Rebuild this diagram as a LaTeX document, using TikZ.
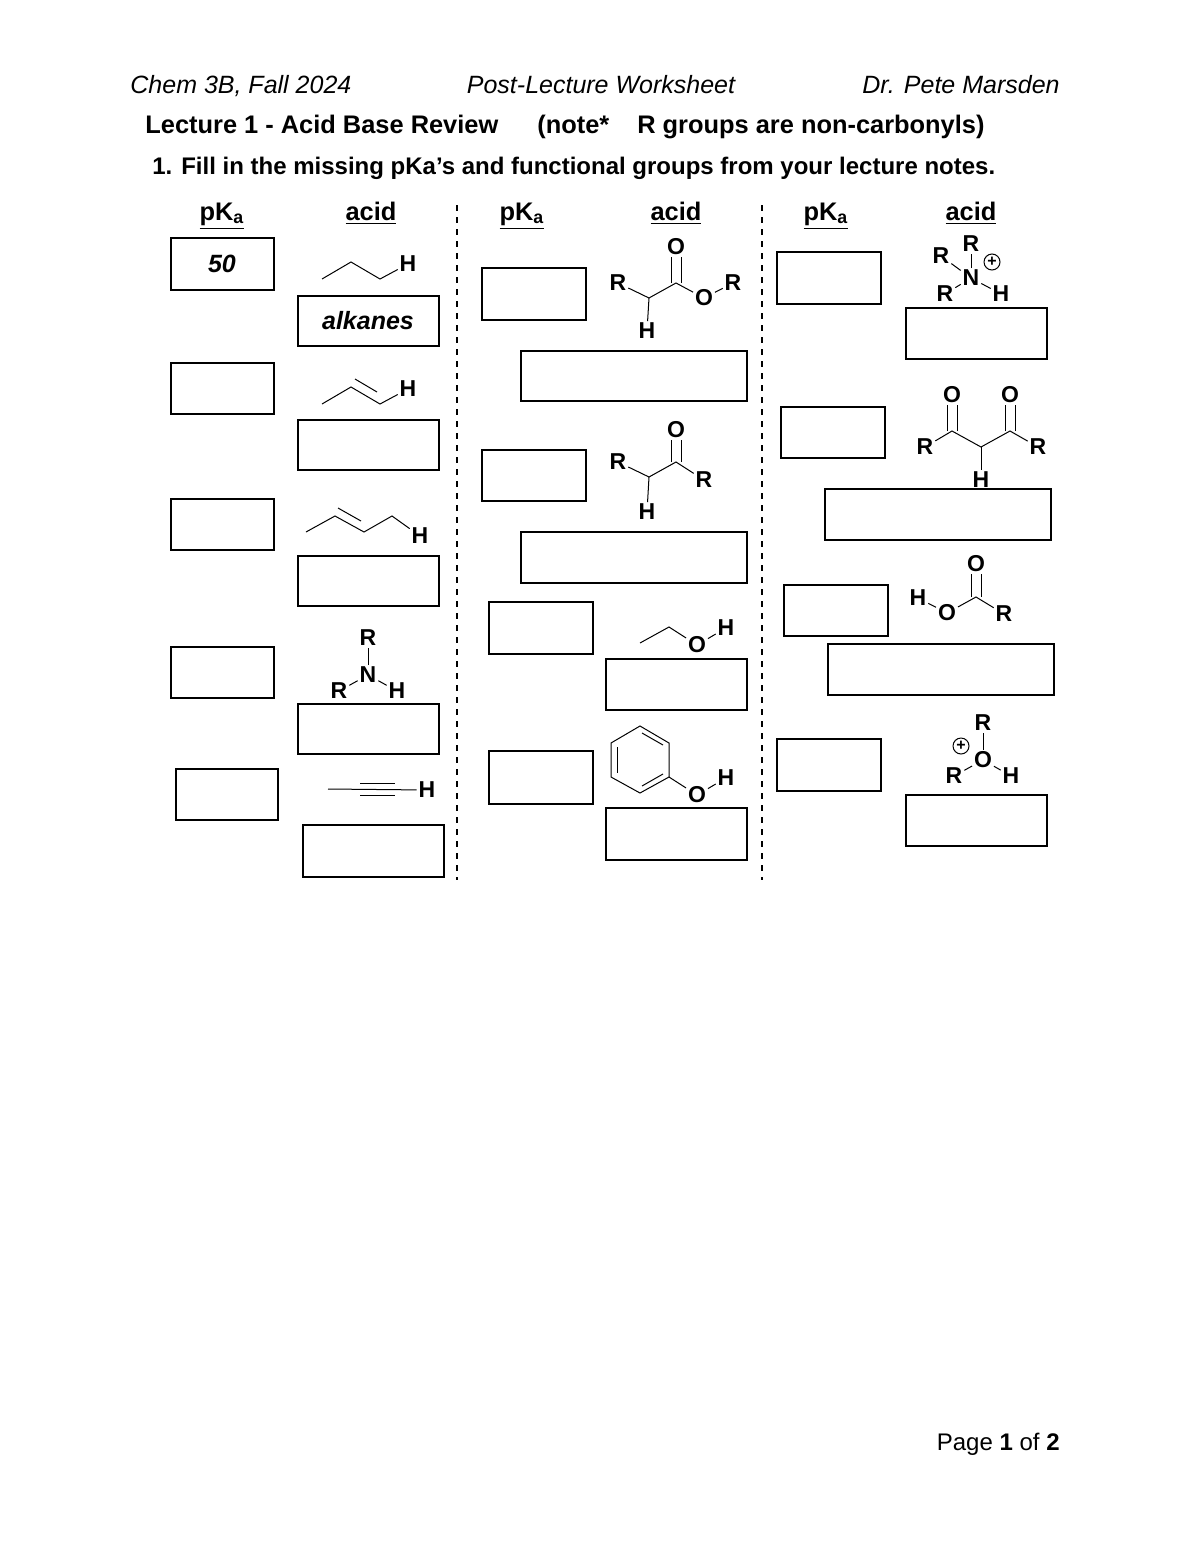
\documentclass[tikz,border=0pt]{standalone}
\usepackage{fontspec}
\setmainfont{Liberation Sans}
\tikzset{
  box/.style={draw, line width=0.6pt},
  atom/.style={font=\fontsize{11.5}{13}\selectfont\bfseries, inner sep=0.8pt},
  bond/.style={line width=0.5pt},
  head/.style={font=\fontsize{12.7}{14}\selectfont\bfseries, inner sep=0pt},
  txt/.style={font=\fontsize{12.5}{14}\selectfont\itshape, inner sep=0pt},
  pm/.style={circle, draw, line width=0.5pt, inner sep=0pt, minimum size=8pt, font=\fontsize{8}{8}\selectfont\bfseries}
}
\newcommand{\hdr}[2]{\node[head, anchor=base] at (#1,220) {\underline{pK\textsubscript{a}}};
  \node[head, anchor=base] at (#2,220) {\underline{acid}};}
\begin{document}
\begin{tikzpicture}[x=0.5pt,y=-0.5pt]
\useasboundingbox (0,0) rectangle (1200,1553);
% header
\node[anchor=base west, txt] (hl) at (130,93) {Chem 3B, Fall 2024};
\node[anchor=base, txt] (hc) at (601,93) {Post-Lecture Worksheet};
\node[anchor=base east, txt] (hr) at (1060,93) {Dr. Pete Marsden};
\node[anchor=base west, head] (title) at (145,133) {Lecture 1 - Acid Base Review};
\node[anchor=base west, head] (note) at (537,133) {(note*\hspace{1.1em}R groups are non-carbonyls)};
\node[anchor=base west, head, font=\fontsize{12}{14}\selectfont\bfseries] (q1) at (152,174) {1. Fill in the missing pKa's and functional groups from your lecture notes.};
\hdr{222}{371}
\hdr{522}{676}
\hdr{826}{971}
\draw[dashed, line width=0.6pt] (457,205) -- (457,880);
\draw[dashed, line width=0.6pt] (762,205) -- (762,880);

% column 1 boxes
\draw[box] (171,238) rectangle (274,290);
\node[font=\fontsize{12.5}{14}\selectfont\bfseries\itshape] (v50) at (222,264) {50};
\draw[box] (298,296) rectangle (439,346);
\node[font=\fontsize{12.5}{14}\selectfont\bfseries\itshape] (alk) at (368,321) {alkanes};
\draw[box] (171,363) rectangle (274,414);
\draw[box] (298,420) rectangle (439,470);
\draw[box] (171,499) rectangle (274,550);
\draw[box] (298,556) rectangle (439,606);
\draw[box] (171,647) rectangle (274,698);
\draw[box] (298,704) rectangle (439,754);
\draw[box] (176,769) rectangle (278,820);
\draw[box] (303,825) rectangle (444,877);

% column 2 boxes
\draw[box] (482,268) rectangle (586,320);
\draw[box] (521,351) rectangle (747,401);
\draw[box] (482,450) rectangle (586,501);
\draw[box] (521,532) rectangle (747,583);
\draw[box] (489,602) rectangle (593,654);
\draw[box] (606,659) rectangle (747,710);
\draw[box] (489,751) rectangle (593,804);
\draw[box] (606,808) rectangle (747,860);

% column 3 boxes
\draw[box] (777,252) rectangle (881,304);
\draw[box] (906,308) rectangle (1047,359);
\draw[box] (781,407) rectangle (885,458);
\draw[box] (825,489) rectangle (1051,540);
\draw[box] (784,585) rectangle (888,636);
\draw[box] (828,644) rectangle (1054,695);
\draw[box] (777,739) rectangle (881,791);
\draw[box] (906,795) rectangle (1047,846);

% propane
\node[atom] (pH) at (408,264) {H};
\draw[bond] (322,279) -- (351,262) -- (380,279) -- (pH);
% propene
\node[atom] (eH) at (408,389) {H};
\draw[bond] (322,404) -- (351,387) -- (380,404) -- (eH);
\draw[bond] (355,379) -- (377,392);
% butene
\node[atom] (bH) at (420,536) {H};
\draw[bond] (306,532) -- (335,516) -- (364,532) -- (392,516) -- (bH);
\draw[bond] (338,508) -- (361,521);
% amine
\node[atom] (aN) at (368,675) {N};
\node[atom] (aR1) at (368,638) {R};
\node[atom] (aR2) at (339,691) {R};
\node[atom] (aH) at (397,691) {H};
\draw[bond] (aN) -- (aR1);
\draw[bond] (aN) -- (aR2);
\draw[bond] (aN) -- (aH);
% alkyne
\node[atom] (yH) at (427,790) {H};
\draw[bond] (328,789) -- (yH);
\draw[bond] (360,783) -- (395,783);
\draw[bond] (360,795) -- (395,795);

% ester
\node[atom] (sR1) at (618,283) {R};
\coordinate (sC1) at (649,298);
\coordinate (sC2) at (676,283);
\node[atom] (sO1) at (676,247) {O};
\node[atom] (sO2) at (704,298) {O};
\node[atom] (sR2) at (733,283) {R};
\node[atom] (sH) at (647,331) {H};
\draw[bond] (sR1) -- (sC1) -- (sC2) -- (sO2) -- (sR2);
\draw[bond] (sC1) -- (sH);
\draw[bond] ([xshift=-2.5]sC2) -- ([xshift=-2.5]sO1.south);
\draw[bond] ([xshift=2.5]sC2) -- ([xshift=2.5]sO1.south);
% ketone
\node[atom] (kR1) at (618,462) {R};
\coordinate (kC1) at (649,477);
\coordinate (kC2) at (676,462);
\node[atom] (kO) at (676,430) {O};
\node[atom] (kR2) at (704,480) {R};
\node[atom] (kH) at (647,512) {H};
\draw[bond] (kR1) -- (kC1) -- (kC2) -- (kR2);
\draw[bond] (kC1) -- (kH);
\draw[bond] ([xshift=-2.5]kC2) -- ([xshift=-2.5]kO.south);
\draw[bond] ([xshift=2.5]kC2) -- ([xshift=2.5]kO.south);
% ethanol
\node[atom] (oO) at (697,645) {O};
\node[atom] (oH) at (726,628) {H};
\draw[bond] (640,643) -- (669,627) -- (oO) -- (oH);
% phenol
\node[atom] (fO) at (697,795) {O};
\node[atom] (fH) at (726,778) {H};
\draw[bond] (640,726) -- (669,743) -- (669,777) -- (640,793) -- (611,777) -- (611,743) -- cycle;
\draw[bond] (642,733) -- (663,745);
\draw[bond] (663,774) -- (642,786);
\draw[bond] (617,747) -- (617,773);
\draw[bond] (669,777) -- (fO) -- (fH);

% ammonium
\node[atom] (mN) at (971,278) {N};
\node[atom] (mR1) at (971,244) {R};
\node[atom] (mR2) at (941,256) {R};
\node[atom] (mR3) at (945,294) {R};
\node[atom] (mH) at (1001,294) {H};
\node[pm] (mP) at (992,262) {+};
\draw[bond] (mN) -- (mR1);
\draw[bond] (mN) -- (mR2);
\draw[bond] (mN) -- (mR3);
\draw[bond] (mN) -- (mH);
% diketone
\node[atom] (dO1) at (952,395) {O};
\node[atom] (dO2) at (1010,395) {O};
\node[atom] (dR1) at (925,447) {R};
\node[atom] (dR2) at (1038,447) {R};
\node[atom] (dH) at (981,480) {H};
\coordinate (dC1) at (952,431);
\coordinate (dC2) at (981,447);
\coordinate (dC3) at (1010,431);
\draw[bond] (dR1) -- (dC1) -- (dC2) -- (dC3) -- (dR2);
\draw[bond] (dC2) -- (dH);
\draw[bond] ([xshift=-2.5]dC1) -- ([xshift=-2.5]dO1.south);
\draw[bond] ([xshift=2.5]dC1) -- ([xshift=2.5]dO1.south);
\draw[bond] ([xshift=-2.5]dC3) -- ([xshift=-2.5]dO2.south);
\draw[bond] ([xshift=2.5]dC3) -- ([xshift=2.5]dO2.south);
% carboxylic acid
\node[atom] (cH) at (918,598) {H};
\node[atom] (cO1) at (947,613) {O};
\coordinate (cC) at (976,597);
\node[atom] (cO2) at (976,564) {O};
\node[atom] (cR) at (1004,614) {R};
\draw[bond] (cH) -- (cO1) -- (cC) -- (cR);
\draw[bond] ([xshift=-2.5]cC) -- ([xshift=-2.5]cO2.south);
\draw[bond] ([xshift=2.5]cC) -- ([xshift=2.5]cO2.south);
% oxonium
\node[atom] (xO) at (983,760) {O};
\node[atom] (xR1) at (983,723) {R};
\node[atom] (xR2) at (954,776) {R};
\node[atom] (xH) at (1011,776) {H};
\node[pm] (xP) at (961,746) {+};
\draw[bond] (xO) -- (xR1);
\draw[bond] (xO) -- (xR2);
\draw[bond] (xO) -- (xH);

% footer
\node[anchor=base east, inner sep=0pt, font=\fontsize{12}{14}\selectfont] (pg) at (1060,1450) {Page \textbf{1} of \textbf{2}};
\end{tikzpicture}
\end{document}
